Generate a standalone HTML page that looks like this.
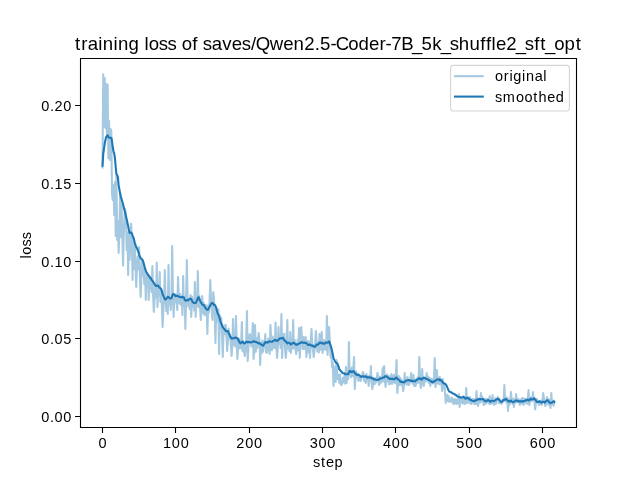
<!DOCTYPE html>
<html><head><meta charset="utf-8"><style>
html,body{margin:0;padding:0;background:#fff;width:640px;height:480px;overflow:hidden;}
svg{display:block;will-change:transform;}
</style></head><body>
<svg width="640" height="480" viewBox="0 0 640 480">
<rect x="0" y="0" width="640" height="480" fill="#fff"/>
<defs><clipPath id="ax"><rect x="80" y="57.6" width="496" height="369.6"/></clipPath></defs>
<g clip-path="url(#ax)" fill="none" stroke-linejoin="round" stroke-linecap="square">
<path d="M102.50 167.50 L103.23 74.20 L103.97 127.00 L104.70 78.10 L105.43 128.00 L106.17 84.10 L106.90 134.00 L107.63 84.60 L108.37 158.00 L109.10 121.00 L109.83 160.00 L110.57 129.00 L111.30 131.00 L112.03 194.00 L112.77 200.00 L113.50 185.00 L114.23 215.00 L114.97 182.00 L115.70 236.00 L116.43 175.00 L117.17 240.00 L117.90 220.76 L118.63 253.00 L119.37 234.90 L120.10 194.43 L120.83 236.99 L121.57 204.47 L122.30 231.86 L123.03 265.60 L123.77 235.70 L124.50 215.98 L125.23 209.00 L125.97 217.40 L126.70 250.22 L127.43 232.22 L128.17 275.00 L128.90 232.20 L129.63 259.87 L130.37 242.10 L131.10 223.75 L131.83 237.23 L132.57 280.00 L133.30 238.12 L134.03 269.07 L134.77 244.81 L135.50 263.20 L136.23 287.00 L136.97 267.83 L137.70 256.62 L138.43 269.13 L139.17 247.00 L139.90 276.20 L140.63 297.00 L141.37 277.79 L142.10 259.36 L142.83 275.71 L143.57 264.16 L144.30 284.29 L145.03 269.45 L145.77 300.00 L146.50 273.81 L147.23 286.94 L147.97 274.65 L148.70 300.00 L149.43 279.36 L150.17 288.92 L150.90 280.44 L151.63 292.30 L152.37 266.00 L153.10 295.49 L153.83 312.00 L154.57 300.42 L155.30 284.89 L156.03 297.31 L156.77 262.50 L157.50 307.00 L158.23 287.32 L158.97 295.80 L159.70 272.00 L160.43 301.91 L161.17 290.35 L161.90 305.54 L162.63 327.00 L163.37 309.15 L164.10 298.21 L164.83 270.00 L165.57 298.20 L166.30 311.10 L167.03 299.76 L167.77 314.00 L168.50 265.00 L169.23 304.78 L169.97 298.59 L170.70 309.92 L171.43 300.56 L172.17 246.00 L172.90 292.18 L173.63 317.00 L174.37 294.54 L175.10 301.60 L175.83 294.39 L176.57 303.38 L177.30 310.00 L178.03 277.00 L178.77 296.73 L179.50 303.39 L180.23 294.06 L180.97 304.87 L181.70 296.89 L182.43 315.00 L183.17 276.00 L183.90 305.82 L184.63 298.69 L185.37 329.00 L186.10 300.42 L186.83 260.00 L187.57 297.32 L188.30 306.47 L189.03 298.52 L189.77 309.16 L190.50 294.93 L191.23 317.00 L191.97 296.69 L192.70 306.97 L193.43 299.24 L194.17 310.49 L194.90 282.00 L195.63 317.00 L196.37 298.08 L197.10 306.25 L197.83 271.00 L198.57 307.23 L199.30 295.98 L200.03 305.95 L200.77 320.00 L201.50 309.28 L202.23 296.00 L202.97 313.04 L203.70 302.81 L204.43 315.27 L205.17 305.08 L205.90 314.54 L206.63 305.31 L207.37 334.00 L208.10 306.85 L208.83 313.05 L209.57 301.80 L210.30 280.00 L211.03 300.07 L211.77 310.89 L212.50 320.00 L213.23 292.00 L213.97 299.23 L214.70 310.62 L215.43 343.00 L216.17 312.69 L216.90 308.78 L217.63 321.38 L218.37 309.57 L219.10 354.00 L219.83 315.28 L220.57 328.38 L221.30 318.10 L222.03 335.45 L222.77 357.00 L223.50 332.00 L224.23 325.53 L224.97 334.32 L225.70 324.91 L226.43 337.20 L227.17 351.00 L227.90 341.76 L228.63 328.46 L229.37 338.56 L230.10 334.41 L230.83 343.90 L231.57 356.00 L232.30 345.43 L233.03 319.00 L233.77 344.84 L234.50 336.34 L235.23 346.49 L235.97 316.00 L236.70 343.67 L237.43 359.00 L238.17 344.58 L238.90 338.42 L239.63 348.42 L240.37 339.97 L241.10 348.13 L241.83 322.00 L242.57 351.18 L243.30 341.19 L244.03 351.42 L244.77 356.00 L245.50 351.11 L246.23 339.81 L246.97 311.00 L247.70 361.00 L248.43 347.67 L249.17 335.94 L249.90 334.00 L250.63 336.89 L251.37 346.55 L252.10 338.59 L252.83 323.00 L253.57 359.00 L254.30 351.21 L255.03 325.00 L255.77 351.80 L256.50 338.36 L257.23 347.89 L257.97 338.56 L258.70 333.00 L259.43 339.29 L260.17 365.00 L260.90 343.13 L261.63 353.32 L262.37 340.63 L263.10 351.61 L263.83 341.61 L264.57 347.52 L265.30 334.00 L266.03 352.15 L266.77 353.00 L267.50 350.56 L268.23 338.45 L268.97 346.39 L269.70 354.00 L270.43 325.00 L271.17 338.90 L271.90 350.33 L272.63 336.56 L273.37 346.33 L274.10 348.00 L274.83 347.89 L275.57 322.50 L276.30 344.63 L277.03 358.00 L277.77 349.74 L278.50 327.00 L279.23 344.00 L279.97 337.12 L280.70 348.13 L281.43 314.00 L282.17 358.00 L282.90 334.53 L283.63 342.95 L284.37 333.81 L285.10 349.89 L285.83 358.00 L286.57 348.60 L287.30 320.00 L288.03 348.43 L288.77 340.74 L289.50 351.24 L290.23 332.00 L290.97 353.00 L291.70 338.88 L292.43 348.44 L293.17 320.00 L293.90 348.56 L294.63 339.68 L295.37 347.76 L296.10 354.00 L296.83 349.12 L297.57 339.86 L298.30 350.51 L299.03 328.00 L299.77 358.00 L300.50 340.74 L301.23 327.00 L301.97 338.73 L302.70 348.96 L303.43 336.98 L304.17 349.04 L304.90 338.34 L305.63 337.00 L306.37 357.00 L307.10 348.59 L307.83 340.87 L308.57 352.55 L309.30 341.85 L310.03 358.00 L310.77 342.18 L311.50 329.00 L312.23 343.80 L312.97 350.18 L313.70 357.00 L314.43 351.44 L315.17 342.13 L315.90 331.00 L316.63 342.00 L317.37 351.58 L318.10 341.97 L318.83 352.52 L319.57 334.00 L320.30 349.82 L321.03 339.50 L321.77 332.00 L322.50 353.00 L323.23 349.41 L323.97 340.06 L324.70 349.22 L325.43 341.21 L326.17 349.85 L326.90 316.00 L327.63 355.00 L328.37 336.76 L329.10 327.00 L329.83 341.59 L330.57 357.18 L331.30 350.98 L332.03 366.91 L332.77 362.63 L333.50 386.00 L334.23 366.58 L334.97 374.87 L335.70 382.00 L336.43 360.00 L337.17 373.26 L337.90 379.21 L338.63 374.82 L339.37 382.95 L340.10 374.50 L340.83 384.68 L341.57 385.00 L342.30 382.11 L343.03 377.86 L343.77 382.39 L344.50 375.08 L345.23 383.69 L345.97 367.00 L346.70 383.00 L347.43 373.35 L348.17 379.32 L348.90 342.00 L349.63 375.38 L350.37 368.87 L351.10 377.14 L351.83 367.43 L352.57 376.09 L353.30 368.73 L354.03 357.00 L354.77 389.00 L355.50 378.09 L356.23 371.44 L356.97 377.13 L357.70 373.97 L358.43 380.82 L359.17 374.57 L359.90 378.58 L360.63 381.00 L361.37 378.95 L362.10 375.27 L362.83 372.00 L363.57 373.51 L364.30 381.16 L365.03 376.06 L365.77 382.90 L366.50 374.15 L367.23 380.22 L367.97 376.32 L368.70 386.00 L369.43 375.76 L370.17 380.23 L370.90 366.00 L371.63 383.25 L372.37 389.00 L373.10 381.30 L373.83 378.06 L374.57 384.15 L375.30 378.23 L376.03 382.49 L376.77 378.69 L377.50 373.00 L378.23 378.47 L378.97 385.00 L379.70 376.66 L380.43 383.53 L381.17 377.64 L381.90 381.45 L382.63 368.00 L383.37 381.54 L384.10 366.00 L384.83 378.94 L385.57 387.00 L386.30 379.52 L387.03 374.54 L387.77 381.58 L388.50 375.89 L389.23 384.36 L389.97 376.50 L390.70 383.44 L391.43 374.00 L392.17 384.00 L392.90 375.57 L393.63 382.01 L394.37 375.02 L395.10 383.30 L395.83 376.02 L396.57 360.00 L397.30 393.00 L398.03 384.65 L398.77 376.09 L399.50 385.05 L400.23 377.89 L400.97 384.66 L401.70 379.91 L402.43 385.12 L403.17 391.00 L403.90 385.99 L404.63 373.00 L405.37 383.77 L406.10 378.76 L406.83 384.65 L407.57 377.00 L408.30 383.71 L409.03 385.00 L409.77 382.61 L410.50 377.32 L411.23 373.00 L411.97 379.22 L412.70 383.73 L413.43 375.00 L414.17 386.00 L414.90 379.91 L415.63 385.99 L416.37 378.87 L417.10 383.19 L417.83 377.07 L418.57 382.58 L419.30 357.00 L420.03 381.44 L420.77 388.00 L421.50 381.16 L422.23 369.00 L422.97 383.31 L423.70 386.00 L424.43 380.91 L425.17 377.40 L425.90 381.35 L426.63 373.00 L427.37 380.46 L428.10 376.59 L428.83 383.00 L429.57 377.86 L430.30 386.00 L431.03 378.82 L431.77 383.22 L432.50 379.15 L433.23 383.55 L433.97 378.64 L434.70 358.00 L435.43 387.00 L436.17 382.52 L436.90 370.00 L437.63 383.20 L438.37 377.60 L439.10 384.10 L439.83 377.00 L440.57 384.29 L441.30 379.21 L442.03 391.00 L442.77 379.06 L443.50 388.34 L444.23 382.93 L444.97 392.15 L445.70 403.00 L446.43 395.27 L447.17 394.64 L447.90 401.12 L448.63 396.05 L449.37 401.97 L450.10 400.00 L450.83 400.84 L451.57 397.44 L452.30 402.64 L453.03 398.90 L453.77 404.21 L454.50 399.28 L455.23 403.57 L455.97 399.58 L456.70 403.99 L457.43 399.37 L458.17 402.86 L458.90 394.00 L459.63 407.00 L460.37 399.01 L461.10 402.48 L461.83 399.71 L462.57 403.37 L463.30 399.04 L464.03 403.21 L464.77 404.00 L465.50 402.52 L466.23 388.00 L466.97 402.99 L467.70 398.89 L468.43 402.67 L469.17 398.99 L469.90 397.00 L470.63 404.00 L471.37 403.80 L472.10 398.96 L472.83 402.36 L473.57 399.13 L474.30 404.08 L475.03 399.16 L475.77 403.90 L476.50 391.00 L477.23 402.78 L477.97 406.00 L478.70 402.21 L479.43 398.43 L480.17 402.39 L480.90 393.00 L481.63 401.71 L482.37 396.88 L483.10 401.07 L483.83 405.00 L484.57 403.26 L485.30 398.81 L486.03 403.60 L486.77 398.72 L487.50 402.37 L488.23 399.03 L488.97 403.68 L489.70 396.00 L490.43 404.00 L491.17 398.76 L491.90 403.00 L492.63 395.00 L493.37 402.74 L494.10 405.00 L494.83 403.62 L495.57 398.16 L496.30 403.68 L497.03 399.35 L497.77 397.00 L498.50 398.35 L499.23 403.26 L499.97 399.73 L500.70 402.95 L501.43 404.00 L502.17 402.67 L502.90 399.78 L503.63 401.68 L504.37 385.00 L505.10 400.53 L505.83 397.36 L506.57 402.83 L507.30 397.71 L508.03 411.00 L508.77 399.43 L509.50 404.77 L510.23 400.62 L510.97 392.00 L511.70 400.66 L512.43 403.66 L513.17 398.79 L513.90 407.00 L514.63 399.32 L515.37 402.97 L516.10 394.00 L516.83 402.04 L517.57 398.72 L518.30 402.46 L519.03 399.61 L519.77 405.00 L520.50 399.45 L521.23 403.71 L521.97 398.32 L522.70 398.00 L523.43 405.00 L524.17 403.81 L524.90 398.54 L525.63 402.49 L526.37 398.68 L527.10 403.95 L527.83 398.99 L528.57 390.00 L529.30 405.00 L530.03 401.90 L530.77 397.58 L531.50 401.19 L532.23 398.71 L532.97 392.00 L533.70 398.59 L534.43 401.49 L535.17 409.50 L535.90 402.96 L536.63 398.90 L537.37 400.00 L538.10 401.12 L538.83 405.05 L539.57 400.72 L540.30 404.31 L541.03 400.77 L541.77 404.91 L542.50 399.97 L543.23 393.00 L543.97 398.94 L544.70 404.14 L545.43 406.00 L546.17 404.31 L546.90 397.00 L547.63 403.38 L548.37 399.28 L549.10 405.11 L549.83 399.61 L550.57 408.00 L551.30 393.00 L552.03 404.05 L552.77 401.19 L553.50 405.93 L554.23 400.57" stroke="#a5c9e1" stroke-width="2.08"/>
<path d="M102.50 165.71 L103.23 154.06 L103.97 148.91 L104.70 143.75 L105.43 139.93 L106.17 137.08 L106.90 135.94 L107.63 135.30 L108.37 136.94 L109.10 137.80 L109.83 137.80 L110.57 137.80 L111.30 137.80 L112.03 141.32 L112.77 147.29 L113.50 151.25 L114.23 153.54 L114.97 158.23 L115.70 167.10 L116.43 174.02 L117.17 175.08 L117.90 177.20 L118.63 185.14 L119.37 189.24 L120.10 193.33 L120.83 196.52 L121.57 199.08 L122.30 201.65 L123.03 204.28 L123.77 207.22 L124.50 210.15 L125.23 213.08 L125.97 216.26 L126.70 219.52 L127.43 222.77 L128.17 226.02 L128.90 229.94 L129.63 232.95 L130.37 232.78 L131.10 232.61 L131.83 233.24 L132.57 235.84 L133.30 237.25 L134.03 239.39 L134.77 242.70 L135.50 245.24 L136.23 247.14 L136.97 248.16 L137.70 250.10 L138.43 252.12 L139.17 254.53 L139.90 256.53 L140.63 258.06 L141.37 258.88 L142.10 259.51 L142.83 260.49 L143.57 262.82 L144.30 265.48 L145.03 268.40 L145.77 270.64 L146.50 272.28 L147.23 273.47 L147.97 274.56 L148.70 275.84 L149.43 276.41 L150.17 278.01 L150.90 278.32 L151.63 280.00 L152.37 280.52 L153.10 282.09 L153.83 282.86 L154.57 284.09 L155.30 285.42 L156.03 285.99 L156.77 285.76 L157.50 285.47 L158.23 285.81 L158.97 286.88 L159.70 287.77 L160.43 288.23 L161.17 289.23 L161.90 290.91 L162.63 294.06 L163.37 295.88 L164.10 297.88 L164.83 299.18 L165.57 299.59 L166.30 298.68 L167.03 297.85 L167.77 296.77 L168.50 296.96 L169.23 297.85 L169.97 298.65 L170.70 298.32 L171.43 298.05 L172.17 296.09 L172.90 294.18 L173.63 294.03 L174.37 294.53 L175.10 295.62 L175.83 296.10 L176.57 295.89 L177.30 295.74 L178.03 296.10 L178.77 296.83 L179.50 296.67 L180.23 297.10 L180.97 297.17 L181.70 297.51 L182.43 296.84 L183.17 297.10 L183.90 297.24 L184.63 299.66 L185.37 300.55 L186.10 300.71 L186.83 300.22 L187.57 299.88 L188.30 300.29 L189.03 299.57 L189.77 299.04 L190.50 298.60 L191.23 299.28 L191.97 300.59 L192.70 302.19 L193.43 302.65 L194.17 303.11 L194.90 303.05 L195.63 303.08 L196.37 301.62 L197.10 300.26 L197.83 298.05 L198.57 297.17 L199.30 298.62 L200.03 300.61 L200.77 302.05 L201.50 303.22 L202.23 304.33 L202.97 304.93 L203.70 305.07 L204.43 306.13 L205.17 307.66 L205.90 308.54 L206.63 309.29 L207.37 309.93 L208.10 309.59 L208.83 308.10 L209.57 306.75 L210.30 305.22 L211.03 304.04 L211.77 303.13 L212.50 303.10 L213.23 303.63 L213.97 305.04 L214.70 304.90 L215.43 305.87 L216.17 307.67 L216.90 310.69 L217.63 313.11 L218.37 314.56 L219.10 316.50 L219.83 318.78 L220.57 321.81 L221.30 323.45 L222.03 325.40 L222.77 327.33 L223.50 328.21 L224.23 328.91 L224.97 329.47 L225.70 330.95 L226.43 331.19 L227.17 330.96 L227.90 331.05 L228.63 333.13 L229.37 334.46 L230.10 336.32 L230.83 337.38 L231.57 338.56 L232.30 338.38 L233.03 338.21 L233.77 338.29 L234.50 338.04 L235.23 337.53 L235.97 337.45 L236.70 338.23 L237.43 338.18 L238.17 339.44 L238.90 340.93 L239.63 342.41 L240.37 343.38 L241.10 342.62 L241.83 342.16 L242.57 341.63 L243.30 342.69 L244.03 343.50 L244.77 343.40 L245.50 342.52 L246.23 341.80 L246.97 341.80 L247.70 342.45 L248.43 342.05 L249.17 342.27 L249.90 341.94 L250.63 342.54 L251.37 342.38 L252.10 342.11 L252.83 341.60 L253.57 341.33 L254.30 341.29 L255.03 342.05 L255.77 342.03 L256.50 342.14 L257.23 342.53 L257.97 343.14 L258.70 343.41 L259.43 343.02 L260.17 343.79 L260.90 344.23 L261.63 345.04 L262.37 345.16 L263.10 345.65 L263.83 344.58 L264.57 343.41 L265.30 342.14 L266.03 342.15 L266.77 342.57 L267.50 342.68 L268.23 342.08 L268.97 341.46 L269.70 341.36 L270.43 341.61 L271.17 341.76 L271.90 341.80 L272.63 341.57 L273.37 340.64 L274.10 340.41 L274.83 339.77 L275.57 340.46 L276.30 340.22 L277.03 341.01 L277.77 340.60 L278.50 339.94 L279.23 338.87 L279.97 338.31 L280.70 338.51 L281.43 338.38 L282.17 338.06 L282.90 337.75 L283.63 339.10 L284.37 340.19 L285.10 340.88 L285.83 341.55 L286.57 342.31 L287.30 343.37 L288.03 342.78 L288.77 342.78 L289.50 342.79 L290.23 343.83 L290.97 344.54 L291.70 343.86 L292.43 343.45 L293.17 342.56 L293.90 342.73 L294.63 343.50 L295.37 344.03 L296.10 344.87 L296.83 344.19 L297.57 344.51 L298.30 343.96 L299.03 343.64 L299.77 343.02 L300.50 343.07 L301.23 342.38 L301.97 342.46 L302.70 342.39 L303.43 342.82 L304.17 342.87 L304.90 342.63 L305.63 342.91 L306.37 343.09 L307.10 343.91 L307.83 344.72 L308.57 344.96 L309.30 344.59 L310.03 344.52 L310.77 345.27 L311.50 345.67 L312.23 345.86 L312.97 345.52 L313.70 346.42 L314.43 346.89 L315.17 346.76 L315.90 345.39 L316.63 344.63 L317.37 344.59 L318.10 344.62 L318.83 343.68 L319.57 342.66 L320.30 342.44 L321.03 342.94 L321.77 343.23 L322.50 342.93 L323.23 343.70 L323.97 343.73 L324.70 343.68 L325.43 342.66 L326.17 342.44 L326.90 342.43 L327.63 342.81 L328.37 342.41 L329.10 341.31 L329.83 343.11 L330.57 345.41 L331.30 347.68 L332.03 350.87 L332.77 354.30 L333.50 358.40 L334.23 359.69 L334.97 361.37 L335.70 362.13 L336.43 363.02 L337.17 363.31 L337.90 364.89 L338.63 366.91 L339.37 369.41 L340.10 370.28 L340.83 371.18 L341.57 371.48 L342.30 372.87 L343.03 373.21 L343.77 373.22 L344.50 373.34 L345.23 374.33 L345.97 374.24 L346.70 374.31 L347.43 374.28 L348.17 374.16 L348.90 372.61 L349.63 371.01 L350.37 370.99 L351.10 371.87 L351.83 372.27 L352.57 371.26 L353.30 371.21 L354.03 371.38 L354.77 373.08 L355.50 373.47 L356.23 374.70 L356.97 374.55 L357.70 375.06 L358.43 374.71 L359.17 375.31 L359.90 375.71 L360.63 376.72 L361.37 376.80 L362.10 376.42 L362.83 376.13 L363.57 376.57 L364.30 376.82 L365.03 376.56 L365.77 376.32 L366.50 376.76 L367.23 377.70 L367.97 377.52 L368.70 377.40 L369.43 377.30 L370.17 377.41 L370.90 378.01 L371.63 377.58 L372.37 378.51 L373.10 378.48 L373.83 379.35 L374.57 379.31 L375.30 379.45 L376.03 379.70 L376.77 379.84 L377.50 379.99 L378.23 379.72 L378.97 379.62 L379.70 378.78 L380.43 378.65 L381.17 378.25 L381.90 378.03 L382.63 377.73 L383.37 377.59 L384.10 377.39 L384.83 376.26 L385.57 376.21 L386.30 376.34 L387.03 376.81 L387.77 377.29 L388.50 377.79 L389.23 378.67 L389.97 378.88 L390.70 378.83 L391.43 379.05 L392.17 378.56 L392.90 379.20 L393.63 379.08 L394.37 379.30 L395.10 378.25 L395.83 377.67 L396.57 377.55 L397.30 379.00 L398.03 379.02 L398.77 379.99 L399.50 380.48 L400.23 381.59 L400.97 381.98 L401.70 381.50 L402.43 382.22 L403.17 382.09 L403.90 382.50 L404.63 381.97 L405.37 381.15 L406.10 380.51 L406.83 380.52 L407.57 380.51 L408.30 380.12 L409.03 380.03 L409.77 380.24 L410.50 380.96 L411.23 380.52 L411.97 381.37 L412.70 380.62 L413.43 380.98 L414.17 381.21 L414.90 381.38 L415.63 380.85 L416.37 380.07 L417.10 379.87 L417.83 379.30 L418.57 378.61 L419.30 378.12 L420.03 378.82 L420.77 379.07 L421.50 379.58 L422.23 378.39 L422.97 378.47 L423.70 377.69 L424.43 378.21 L425.17 378.15 L425.90 378.54 L426.63 379.04 L427.37 379.06 L428.10 379.72 L428.83 380.20 L429.57 380.17 L430.30 381.11 L431.03 381.30 L431.77 382.11 L432.50 382.36 L433.23 381.52 L433.97 381.76 L434.70 381.08 L435.43 380.75 L436.17 380.06 L436.90 379.48 L437.63 379.44 L438.37 379.60 L439.10 379.33 L439.83 380.23 L440.57 379.85 L441.30 380.70 L442.03 381.19 L442.77 382.47 L443.50 383.39 L444.23 383.53 L444.97 383.77 L445.70 384.25 L446.43 385.28 L447.17 387.19 L447.90 388.85 L448.63 390.48 L449.37 391.53 L450.10 391.83 L450.83 392.16 L451.57 392.53 L452.30 393.05 L453.03 393.44 L453.77 393.74 L454.50 394.13 L455.23 394.82 L455.97 394.97 L456.70 395.80 L457.43 396.36 L458.17 396.63 L458.90 396.97 L459.63 397.13 L460.37 397.22 L461.10 397.63 L461.83 397.42 L462.57 397.49 L463.30 396.59 L464.03 397.09 L464.77 397.96 L465.50 398.80 L466.23 398.58 L466.97 397.98 L467.70 397.53 L468.43 398.23 L469.17 399.00 L469.90 399.81 L470.63 399.99 L471.37 400.00 L472.10 400.82 L472.83 401.06 L473.57 400.99 L474.30 401.10 L475.03 400.45 L475.77 400.58 L476.50 399.82 L477.23 399.85 L477.97 399.12 L478.70 399.35 L479.43 398.91 L480.17 399.27 L480.90 399.27 L481.63 399.22 L482.37 399.00 L483.10 399.00 L483.83 399.79 L484.57 400.67 L485.30 401.28 L486.03 401.28 L486.77 400.97 L487.50 400.31 L488.23 400.09 L488.97 400.67 L489.70 401.14 L490.43 401.82 L491.17 400.74 L491.90 400.74 L492.63 400.70 L493.37 401.15 L494.10 400.96 L494.83 400.56 L495.57 400.22 L496.30 399.42 L497.03 399.10 L497.77 398.82 L498.50 399.01 L499.23 399.77 L499.97 400.80 L500.70 401.67 L501.43 401.92 L502.17 401.44 L502.90 400.61 L503.63 399.80 L504.37 399.90 L505.10 399.37 L505.83 399.00 L506.57 399.36 L507.30 400.39 L508.03 400.86 L508.77 401.65 L509.50 401.10 L510.23 401.46 L510.97 400.58 L511.70 401.25 L512.43 401.88 L513.17 402.30 L513.90 401.68 L514.63 401.45 L515.37 400.82 L516.10 400.57 L516.83 400.57 L517.57 400.91 L518.30 401.43 L519.03 401.15 L519.77 401.55 L520.50 401.30 L521.23 401.49 L521.97 401.17 L522.70 401.61 L523.43 401.13 L524.17 401.14 L524.90 400.79 L525.63 400.62 L526.37 400.01 L527.10 400.05 L527.83 399.76 L528.57 400.53 L529.30 399.87 L530.03 399.67 L530.77 398.61 L531.50 399.35 L532.23 399.57 L532.97 399.46 L533.70 398.29 L534.43 398.33 L535.17 399.38 L535.90 400.49 L536.63 401.65 L537.37 402.12 L538.10 401.90 L538.83 401.71 L539.57 401.22 L540.30 402.00 L541.03 402.19 L541.77 402.72 L542.50 401.80 L543.23 401.78 L543.97 401.74 L544.70 402.67 L545.43 401.83 L546.17 401.13 L546.90 400.28 L547.63 400.29 L548.37 401.11 L549.10 402.00 L549.83 402.78 L550.57 402.87 L551.30 402.79 L552.03 402.52 L552.77 401.82 L553.50 401.33 L554.23 401.98" stroke="#1f77b4" stroke-width="2.08"/>
</g>
<path d="M80.5 58 L80.5 428 M576.5 58 L576.5 428 M80 58.5 L577 58.5 M80 427.5 L577 427.5" fill="none" stroke="#000" stroke-width="1.1"/>
<path d="M80 416.50 L75.1 416.50 M80 338.50 L75.1 338.50 M80 261.50 L75.1 261.50 M80 183.50 L75.1 183.50 M80 105.50 L75.1 105.50 M102.50 428 L102.50 432.9 M175.50 428 L175.50 432.9 M249.50 428 L249.50 432.9 M322.50 428 L322.50 432.9 M395.50 428 L395.50 432.9 M469.50 428 L469.50 432.9 M542.50 428 L542.50 432.9" stroke="#000" stroke-width="1.11" fill="none"/>
<text x="41.26 49.90 54.51 63.35" y="422.00" font-family="Liberation Sans, sans-serif" font-size="14.50" fill="#000" style="white-space:pre" >0.00</text>
<text x="41.26 49.90 54.51 63.35" y="344.00" font-family="Liberation Sans, sans-serif" font-size="14.50" fill="#000" style="white-space:pre" >0.05</text>
<text x="41.26 49.90 54.51 63.35" y="267.00" font-family="Liberation Sans, sans-serif" font-size="14.50" fill="#000" style="white-space:pre" >0.10</text>
<text x="41.26 49.90 54.51 63.35" y="189.00" font-family="Liberation Sans, sans-serif" font-size="14.50" fill="#000" style="white-space:pre" >0.15</text>
<text x="41.26 49.90 54.51 63.35" y="111.00" font-family="Liberation Sans, sans-serif" font-size="14.50" fill="#000" style="white-space:pre" >0.20</text>
<text x="98.47" y="447.80" font-family="Liberation Sans, sans-serif" font-size="14.50" fill="#000" style="white-space:pre" >0</text>
<text x="162.96 171.80 180.64" y="447.80" font-family="Liberation Sans, sans-serif" font-size="14.50" fill="#000" style="white-space:pre" >100</text>
<text x="236.30 245.13 253.97" y="447.80" font-family="Liberation Sans, sans-serif" font-size="14.50" fill="#000" style="white-space:pre" >200</text>
<text x="309.63 318.47 327.31" y="447.80" font-family="Liberation Sans, sans-serif" font-size="14.50" fill="#000" style="white-space:pre" >300</text>
<text x="382.96 391.80 400.64" y="447.80" font-family="Liberation Sans, sans-serif" font-size="14.50" fill="#000" style="white-space:pre" >400</text>
<text x="456.30 465.13 473.97" y="447.80" font-family="Liberation Sans, sans-serif" font-size="14.50" fill="#000" style="white-space:pre" >500</text>
<text x="529.63 538.47 547.31" y="447.80" font-family="Liberation Sans, sans-serif" font-size="14.50" fill="#000" style="white-space:pre" >600</text>
<text x="312.97 320.92 325.90 334.58" y="466.75" font-family="Liberation Sans, sans-serif" font-size="14.50" fill="#000" style="white-space:pre" >step</text>
<g transform="translate(31.2 245.4) rotate(-90)"><text x="-13.10 -9.34 -1.06 6.17" y="0.00" font-family="Liberation Sans, sans-serif" font-size="14.50" fill="#000" style="white-space:pre" >loss</text></g>
<text x="75.09 81.27 87.73 98.26 102.75 113.45 117.94 128.52 139.05 144.53 148.84 158.80 167.49 176.55 181.71 192.33 197.91 202.84 211.77 222.33 231.87 241.86 251.08 255.80 269.69 283.18 293.59 304.18 314.72 320.08 330.47 335.67 348.14 358.53 368.95 379.58 385.48 391.18 401.17 412.09 421.56 432.21 440.68 449.71 458.82 469.38 480.19 485.93 491.57 495.91 506.34 515.81 524.84 534.19 540.24 544.94 554.21 564.60 575.75" y="49.70" font-family="Liberation Sans, sans-serif" font-size="18.60" fill="#000" style="white-space:pre" >training loss of saves/Qwen2.5-Coder-7B_5k_shuffle2_sft_opt</text>
<rect x="450.6" y="65.4" width="118.8" height="45.6" rx="2.8" ry="2.8" fill="#fff" fill-opacity="0.8" stroke="#d6d6d6" stroke-width="1.11"/>
<path d="M454 76.2 L483.8 76.2" stroke="#a5c9e1" stroke-width="2.08"/>
<path d="M454 96.6 L483.8 96.6" stroke="#1f77b4" stroke-width="2.08"/>
<text x="495.12 503.84 509.43 513.34 522.10 526.01 534.67 543.28" y="80.50" font-family="Liberation Sans, sans-serif" font-size="14.50" fill="#000" style="white-space:pre" >original</text>
<text x="494.89 502.86 515.88 524.38 533.37 538.48 547.15 555.83" y="101.75" font-family="Liberation Sans, sans-serif" font-size="14.50" fill="#000" style="white-space:pre" >smoothed</text>
</svg>
</body></html>
